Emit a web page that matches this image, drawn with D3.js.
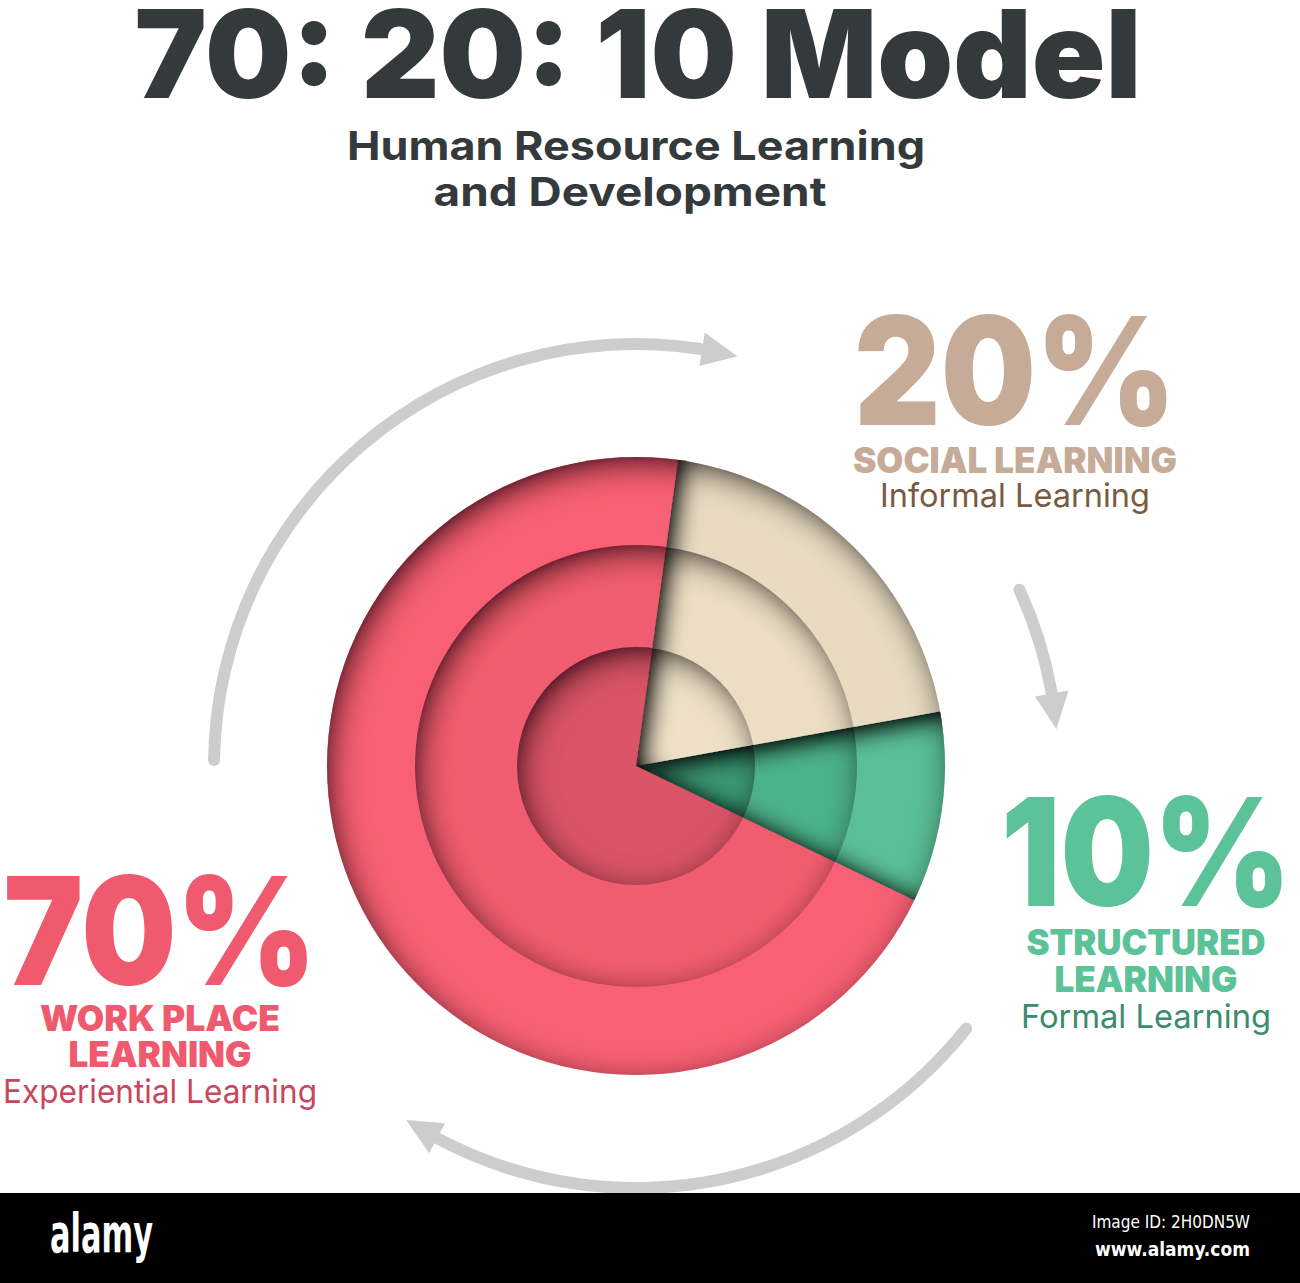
<!DOCTYPE html>
<html>
<head>
<meta charset="utf-8">
<script src="https://cdn.jsdelivr.net/npm/d3@7"></script>
<style>
  body { margin: 0; background: #fff; }
  svg { display: block; }
  text { font-family: Inter, "Open Sans", "DejaVu Sans", sans-serif; }
</style>
</head>
<body>
<div class="chart"></div>
<script>
// chart data
var categories = ["Social Learning", "Structured Learning", "Work Place Learning"];
var shares = [20, 10, 70];
var percentLabels = ["20%", "10%", "70%"];
var headings = [["SOCIAL LEARNING"], ["STRUCTURED", "LEARNING"], ["WORK PLACE", "LEARNING"]];
var subLabels = ["Informal Learning", "Formal Learning", "Experiential Learning"];
var titleText = "70: 20: 10 Model";
var subtitleLines = ["Human Resource Learning", "and Development"];

var width = 1300, height = 1283;
var cx = 636, cy = 766;
var ringRadii = [309, 221, 119];      // outer, middle, inner paper layers
var startDeg = 7.8;                   // where the 20% slice begins (clockwise from 12 o'clock)

// colours per layer (outer -> inner)
var layerColors = {
  "Social Learning":     ["#e8dbc2", "#ecdec4", "#eee1c7"],
  "Structured Learning": ["#5abf96", "#4cb28a", "#3c9a77"],
  "Work Place Learning": ["#f86075", "#f05d6f", "#da5468"]
};
// stacking order inside a layer: green lowest, red on top
var zOrder = ["Structured Learning", "Social Learning", "Work Place Learning"];

var textColors = {
  "Social Learning":     {big: "#c6ab98", small: "#7a5a3f"},
  "Structured Learning": {big: "#5cc297", small: "#3b8c6c"},
  "Work Place Learning": {big: "#ef5a6e", small: "#c8475b"}
};

var svg = d3.select(".chart").append("svg")
  .attr("width", width).attr("height", height);

var defs = svg.append("defs");

// inner shadow: makes every disc look cut into the paper
var inset = defs.append("filter").attr("id", "inset")
  .attr("x", "-20%").attr("y", "-20%").attr("width", "140%").attr("height", "140%");
inset.append("feFlood").attr("flood-color", "#1a0608").attr("flood-opacity", 1);
inset.append("feComposite").attr("in2", "SourceAlpha").attr("operator", "out");
inset.append("feOffset").attr("dx", 5).attr("dy", 8);
inset.append("feGaussianBlur").attr("stdDeviation", 16);
inset.append("feComponentTransfer").append("feFuncA").attr("type", "linear").attr("slope", 1.15);
inset.append("feComposite").attr("in2", "SourceAlpha").attr("operator", "in").attr("result", "sh");
var m1 = inset.append("feMerge");
m1.append("feMergeNode").attr("in", "SourceGraphic");
m1.append("feMergeNode").attr("in", "sh");

// soft drop shadow for slices lying on top of each other
var drop = defs.append("filter").attr("id", "drop")
  .attr("x", "-30%").attr("y", "-30%").attr("width", "160%").attr("height", "160%");
drop.append("feGaussianBlur").attr("in", "SourceAlpha").attr("stdDeviation", 13);
drop.append("feOffset").attr("dx", 3).attr("dy", 4);
drop.append("feComponentTransfer").append("feFuncA").attr("type", "linear").attr("slope", 1.2);
var m2 = drop.append("feMerge");
m2.append("feMergeNode");
m2.append("feMergeNode").attr("in", "SourceGraphic");

ringRadii.forEach(function(r, i) {
  defs.append("clipPath").attr("id", "disc" + i)
    .append("circle").attr("r", r);
});

var a0 = startDeg * Math.PI / 180;
var pie = d3.pie().sort(null).value(function(d) { return d; })
  .startAngle(a0).endAngle(a0 + 2 * Math.PI);
var slices = pie(shares).map(function(s, i) { s.cat = categories[i]; return s; });
slices.sort(function(a, b) { return zOrder.indexOf(a.cat) - zOrder.indexOf(b.cat); });

var pieG = svg.append("g").attr("transform", "translate(" + cx + "," + cy + ")");

ringRadii.forEach(function(r, level) {
  var arc = d3.arc().innerRadius(0).outerRadius(r + 30);
  var layer = pieG.append("g").attr("filter", "url(#inset)");
  var clipped = layer.append("g").attr("clip-path", "url(#disc" + level + ")");
  clipped.selectAll("path").data(slices).enter().append("path")
    .attr("d", arc)
    .attr("fill", function(d) { return layerColors[d.cat][level]; })
    .attr("filter", function(d, i) { return i > 0 ? "url(#drop)" : null; });
});

// grey cycle arrows around the chart
var arrowR = 422, arrowW = 12, headLen = 36, headHalf = 17;
var arrowSpans = [[-90, 13.9], [64.5, 85], [127.7, 213]];
var rad = function(d) { return d * Math.PI / 180; };
var polar = function(r, a) { return [r * Math.sin(a), -r * Math.cos(a)]; };
var band = d3.arc().innerRadius(arrowR - arrowW / 2).outerRadius(arrowR + arrowW / 2).cornerRadius(arrowW / 2);
var arrowG = svg.append("g").attr("transform", "translate(" + cx + "," + cy + ")");
arrowSpans.forEach(function(s) {
  var tip = rad(s[1]);
  var base = tip - headLen / arrowR;
  arrowG.append("path")
    .attr("d", band({startAngle: rad(s[0]), endAngle: base + 0.01}))
    .attr("fill", "#cdcdcd");
  arrowG.append("path")
    .attr("d", d3.line()([polar(arrowR, tip), polar(arrowR - headHalf, base), polar(arrowR + headHalf, base)]) + "Z")
    .attr("fill", "#cdcdcd");
});

// text helper: size by cap height, width by textLength
function label(g, txt, x, y, size, weight, color, w) {
  return g.append("text")
    .attr("x", x).attr("y", y)
    .attr("text-anchor", "middle")
    .attr("font-size", size)
    .attr("font-weight", weight)
    .attr("fill", color)
    .attr("textLength", w)
    .attr("lengthAdjust", "spacingAndGlyphs")
    .text(txt);
}

var txt = svg.append("g");
label(txt, titleText, 638, 98, 122, 900, "#34393c", 1007);
label(txt, subtitleLines[0], 636, 160, 40, 700, "#34393c", 578);
label(txt, subtitleLines[1], 630, 206, 40, 700, "#34393c", 393);

// label blocks: x centre, percent baseline, heading baselines, sub label baseline, widths
var labelLayout = [
  {x: 1015, pct: 425, pctW: 322, head: [473], headW: [324], sub: 507, subW: 270},
  {x: 1146, pct: 906, pctW: 290, head: [955, 992], headW: [239, 183], sub: 1028, subW: 250},
  {x: 160, pct: 985, pctW: 313, head: [1031, 1067], headW: [240, 183], sub: 1103, subW: 314}
];

categories.forEach(function(c, i) {
  var L = labelLayout[i], col = textColors[c];
  label(txt, percentLabels[i], L.x, L.pct, 150, 900, col.big, L.pctW);
  headings[i].forEach(function(h, j) {
    label(txt, h, L.x, L.head[j], 35, 900, col.big, L.headW[j]);
  });
  label(txt, subLabels[i], L.x, L.sub, 33, 400, col.small, L.subW);
});

// footer band
svg.append("rect").attr("x", 0).attr("y", 1193).attr("width", width).attr("height", height - 1193).attr("fill", "#000");
var foot = svg.append("g").style("font-family", "'DejaVu Sans Condensed', 'Liberation Sans Narrow', sans-serif");
foot.append("text").attr("x", 50).attr("y", 1252).attr("fill", "#fff")
  .attr("font-size", 54).attr("font-weight", 700)
  .attr("textLength", 103).attr("lengthAdjust", "spacingAndGlyphs")
  .style("font-family", "'DejaVu Sans Condensed', sans-serif").text("alamy");
foot.append("text").attr("x", 1250).attr("y", 1228).attr("fill", "#fff")
  .attr("text-anchor", "end").attr("font-size", 17)
  .style("font-family", "'DejaVu Sans Condensed', sans-serif").text("Image ID: 2H0DN5W");
foot.append("text").attr("x", 1250).attr("y", 1256).attr("fill", "#fff")
  .attr("text-anchor", "end").attr("font-size", 19).attr("font-weight", 700)
  .style("font-family", "'DejaVu Sans Condensed', sans-serif").text("www.alamy.com");
</script>
</body>
</html>
